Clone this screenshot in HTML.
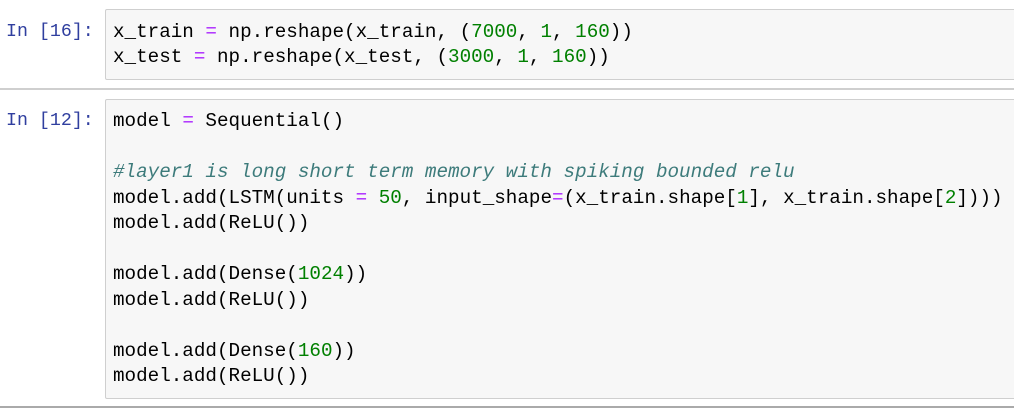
<!DOCTYPE html>
<html><head><meta charset="utf-8"><style>
body{margin:0;width:1014px;height:411px;background:#fff;overflow:hidden;position:relative;font-family:"Liberation Mono",monospace;font-size:19.25px;}
.p{position:absolute;left:6px;color:#303F9F;white-space:pre;font-size:18.3px;}
.box{position:absolute;left:105px;width:920px;background:#f7f7f7;border:1px solid #cfcfcf;border-radius:2px;box-sizing:border-box;}
pre{margin:0;position:absolute;left:7px;font:inherit;color:#000;}
.o{color:#AA22FF;}.n{color:#008000;}.c{color:#3D7B7B;font-style:italic;}
.hr{position:absolute;left:0;width:1014px;height:2px;background:#cfcfcf;}
</style></head><body>
<div class="p" style="top:20px;line-height:25px">In [16]:</div>
<div class="box" style="top:9px;height:71px;"><pre style="top:10px;line-height:25px">x_train <span class="o">=</span> np.reshape(x_train, (<span class="n">7000</span>, <span class="n">1</span>, <span class="n">160</span>))
x_test <span class="o">=</span> np.reshape(x_test, (<span class="n">3000</span>, <span class="n">1</span>, <span class="n">160</span>))</pre></div>
<div class="hr" style="top:88px"></div>
<div class="p" style="top:109px;line-height:25px">In [12]:</div>
<div class="box" style="top:99px;height:300px;"><pre style="top:9px;line-height:25.5px">model <span class="o">=</span> Sequential()

<span class="c">#layer1 is long short term memory with spiking bounded relu</span>
model.add(LSTM(units <span class="o">=</span> <span class="n">50</span>, input_shape<span class="o">=</span>(x_train.shape[<span class="n">1</span>], x_train.shape[<span class="n">2</span>])))
model.add(ReLU())

model.add(Dense(<span class="n">1024</span>))
model.add(ReLU())

model.add(Dense(<span class="n">160</span>))
model.add(ReLU())</pre></div>
<div class="hr" style="top:406px;background:#aaa"></div>
</body></html>
